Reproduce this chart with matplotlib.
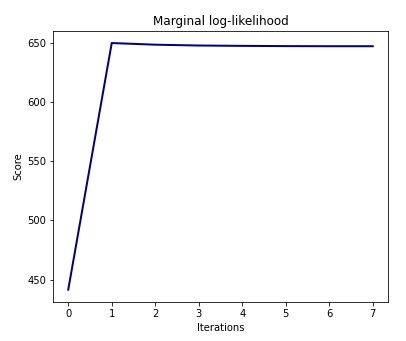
import numpy as np
import matplotlib
matplotlib.use("Agg")
import matplotlib.pyplot as plt

# marginal log-likelihood per iteration
iterations = [0, 1, 2, 3, 4, 5, 6, 7]
scores = [441.5, 650.0, 648.6, 647.9, 647.6, 647.4, 647.3, 647.3]

W, H = 406, 341
fig = plt.figure(figsize=(W / 72, H / 72), dpi=72)
ax = fig.add_axes([53 / W, (H - 302) / H, (388 - 53) / W, (302 - 30.7) / H])

ax.plot(iterations, scores, color="navy", linewidth=2)
ax.set_title("Marginal log-likelihood", fontsize=12)
ax.set_xlabel("Iterations")
ax.set_ylabel("Score")
ax.set_yticks([450, 500, 550, 600, 650])

fig.savefig("out.png", dpi=72)
